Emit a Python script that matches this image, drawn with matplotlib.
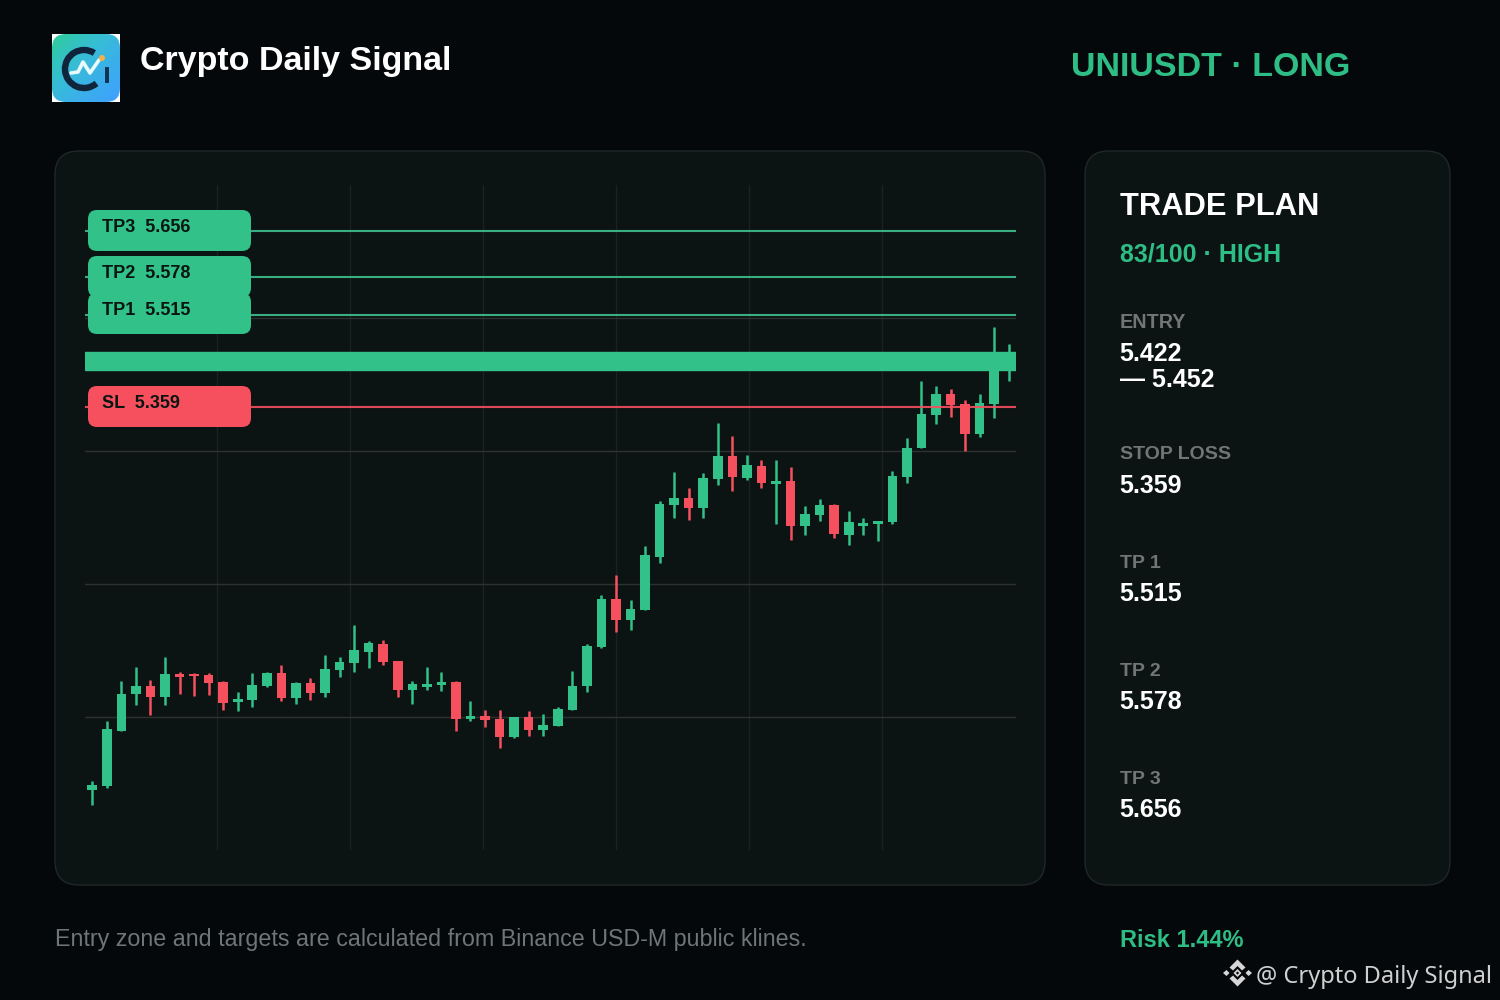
"""UNIUSDT long signal card: candles, entry zone, targets and trade plan panel."""
import numpy as np
import matplotlib
matplotlib.use("Agg")
import matplotlib.pyplot as plt
from matplotlib.patches import FancyBboxPatch, Circle, Polygon, Rectangle, Arc

plt.rcParams["font.family"] = ["Liberation Sans", "DejaVu Sans"]

opens = [4.713, 4.719, 4.812, 4.875, 4.888, 4.870, 4.908, 4.908, 4.907, 4.895,
         4.861, 4.865, 4.888, 4.910, 4.868, 4.893, 4.876, 4.915, 4.927, 4.946,
         4.959, 4.930, 4.881, 4.886, 4.890, 4.895, 4.832, 4.838, 4.832, 4.802,
         4.836, 4.814, 4.821, 4.848, 4.888, 4.954, 5.035, 5.000, 5.016, 5.106,
         5.194, 5.206, 5.189, 5.238, 5.276, 5.239, 5.259, 5.229, 5.234, 5.158,
         5.177, 5.194, 5.143, 5.158, 5.161, 5.165, 5.241, 5.290, 5.345, 5.381,
         5.364, 5.313, 5.364, 5.425]
highs = [4.728, 4.829, 4.897, 4.920, 4.898, 4.937, 4.912, 4.910, 4.910, 4.897,
         4.878, 4.910, 4.912, 4.924, 4.895, 4.902, 4.940, 4.937, 4.991, 4.964,
         4.966, 4.930, 4.897, 4.920, 4.912, 4.897, 4.863, 4.848, 4.848, 4.836,
         4.846, 4.841, 4.853, 4.913, 4.959, 5.042, 5.075, 5.033, 5.124, 5.200,
         5.249, 5.222, 5.248, 5.332, 5.310, 5.278, 5.270, 5.270, 5.258, 5.192,
         5.204, 5.195, 5.183, 5.172, 5.167, 5.251, 5.307, 5.403, 5.394, 5.389,
         5.371, 5.381, 5.494, 5.465]
lows = [4.687, 4.716, 4.812, 4.856, 4.839, 4.856, 4.875, 4.871, 4.873, 4.848,
        4.846, 4.853, 4.886, 4.863, 4.858, 4.865, 4.870, 4.903, 4.912, 4.919,
        4.924, 4.870, 4.858, 4.881, 4.880, 4.812, 4.829, 4.819, 4.783, 4.800,
        4.804, 4.804, 4.821, 4.848, 4.878, 4.952, 4.979, 4.983, 5.016, 5.096,
        5.172, 5.168, 5.172, 5.227, 5.217, 5.236, 5.222, 5.161, 5.134, 5.143,
        5.167, 5.138, 5.126, 5.143, 5.133, 5.161, 5.231, 5.290, 5.330, 5.342,
        5.285, 5.308, 5.340, 5.403]
closes = [4.721, 4.816, 4.875, 4.888, 4.870, 4.908, 4.903, 4.905, 4.893, 4.859,
          4.866, 4.890, 4.910, 4.868, 4.893, 4.876, 4.917, 4.929, 4.949, 4.961,
          4.929, 4.881, 4.891, 4.891, 4.895, 4.832, 4.838, 4.831, 4.802, 4.836,
          4.814, 4.822, 4.849, 4.888, 4.956, 5.035, 5.000, 5.018, 5.110, 5.195,
          5.206, 5.189, 5.239, 5.276, 5.241, 5.261, 5.231, 5.234, 5.158, 5.178,
          5.194, 5.145, 5.165, 5.163, 5.167, 5.243, 5.290, 5.347, 5.381, 5.362,
          5.313, 5.366, 5.438, 5.447]

entry_low, entry_high = 5.422, 5.452
level_names = ["TP3", "TP2", "TP1", "SL"]
level_values = [5.656, 5.578, 5.515, 5.359]
plan_labels = ["STOP LOSS", "TP 1", "TP 2", "TP 3"]
plan_values = [5.359, 5.515, 5.578, 5.656]

BG = "#05080a"
PANEL = "#0c1413"
EDGE = "#1f2826"
GREEN = "#2ebd85"
FILL = "#31c189"
RED = "#f6505f"
GRAY = "#6f7675"

fig = plt.figure(figsize=(15, 10), dpi=100, facecolor=BG)

# background layer and top layer both work in reference pixels
bg = fig.add_axes([0, 0, 1, 1], zorder=0)
top = fig.add_axes([0, 0, 1, 1], zorder=3)
for a in (bg, top):
    a.set_xlim(0, 1500)
    a.set_ylim(1000, 0)
    a.axis("off")


def round_box(a, x0, y0, x1, y1, r, **kw):
    p = FancyBboxPatch((x0 + r, y0 + r), x1 - x0 - 2 * r, y1 - y0 - 2 * r,
                       boxstyle=f"round,pad={r},rounding_size={r}", **kw)
    a.add_patch(p)
    return p


round_box(bg, 55, 151, 1045, 885, 24, fc=PANEL, ec=EDGE, lw=1)
round_box(bg, 1085, 151, 1450, 885, 24, fc=PANEL, ec=EDGE, lw=1)

# chart
ax = fig.add_axes([85 / 1500, 1 - 850 / 1000, 931 / 1500, 665 / 1000], zorder=2)
ax.patch.set_alpha(0)
ax.set_xlim(0, 64)
ax.set_ylim(4.6114, 5.7336)
for s in ax.spines.values():
    s.set_visible(False)
ax.tick_params(left=False, bottom=False, labelleft=False, labelbottom=False)

ax.set_xticks(np.arange(1, 7) * 64 / 7 - 0.04)
ax.set_yticks(np.linspace(4.6114, 5.7336, 6)[1:-1])
ax.grid(axis="x", color="#1b2321", lw=1)
ax.grid(axis="y", color="#2c3230", lw=1)
ax.set_axisbelow(True)

x = np.arange(len(opens)) + 0.5
o, h, l, c = map(np.array, (opens, highs, lows, closes))
colors = [FILL if cc >= oo else RED for oo, cc in zip(o, c)]
ax.vlines(x, l, h, colors=colors, lw=1.8, zorder=2)
ax.bar(x, np.abs(c - o), bottom=np.minimum(o, c), width=0.66, color=colors, zorder=3)

for name, val in zip(level_names, level_values):
    ax.axhline(val, color=RED if name == "SL" else "#3fc08d", lw=1.5,
               alpha=0.9, zorder=4)
ax.axhspan(entry_low, entry_high, fc=FILL, ec=FILL, lw=1, zorder=5)

# level tags
for name, val in zip(level_names, level_values):
    py = int(1000 - ax.transData.transform((0, val))[1] + 0.2)
    col = RED if name == "SL" else FILL
    round_box(top, 88, py - 21, 251, py + 20, 9, fc=col, ec="none")
for name, val in zip(level_names, level_values):
    py = int(1000 - ax.transData.transform((0, val))[1] + 0.2)
    top.text(102, py + 1, f"{name}  {val:.3f}", fontsize=13, fontweight="bold",
             color="#0a1512", ha="left", va="baseline")

# header
logo_bg = Rectangle((52, 34), 68, 68, fc="white", ec="none")
top.add_patch(logo_bg)
clip = round_box(top, 52, 34, 120, 102, 14, fc="none", ec="none")
gx, gy = np.meshgrid(np.linspace(0, 1, 68), np.linspace(0, 1, 68))
t = ((gx + gy) / 2) ** 0.7
grad = np.zeros((68, 68, 3))
for i, (a0, a1, a2) in enumerate(zip((0x2c, 0xd0, 0x8c), (0x37, 0xbc, 0xd8), (0x3f, 0xa0, 0xff))):
    grad[..., i] = np.interp(t, [0, 0.55, 1], [a0, a1, a2]) / 255
im = top.imshow(grad, extent=(52, 120, 102, 34), zorder=2, aspect="auto")
im.set_clip_path(clip)
top.set_xlim(0, 1500)
top.set_ylim(1000, 0)
top.add_patch(Arc((84, 69), 38, 38, angle=0, theta1=49, theta2=303,
                  color="#10243c", lw=4.6, zorder=3))
top.plot([71, 78, 83, 90, 99], [73, 72, 62, 73, 60], color="#e8fbff",
         lw=2.6, zorder=4, solid_capstyle="round", solid_joinstyle="round")
top.add_patch(Circle((102, 58), 3, fc="#f4b04a", ec="none", zorder=5))
top.plot([107, 107], [69, 81], color="#10324f", lw=2.8, zorder=4)

top.text(140, 70, "Crypto Daily Signal", fontsize=24.5, fontweight="bold",
         color="white", va="baseline")
top.text(1071, 76, "UNIUSDT · LONG", fontsize=24.5, fontweight="bold",
         color=GREEN, va="baseline")

# trade plan panel
top.text(1120, 215, "TRADE PLAN", fontsize=22.2, fontweight="bold", color="white",
         va="baseline")
top.text(1120, 261, "83/100 · HIGH", fontsize=18, fontweight="bold", color=GREEN,
         va="baseline")
top.text(1120, 328, "ENTRY", fontsize=14.2, fontweight="bold", color=GRAY,
         va="baseline")
top.text(1119.5, 361, f"{entry_low:.3f}", fontsize=18, fontweight="bold",
         color="white", va="baseline")
top.text(1120, 387, f"— {entry_high:.3f}", fontsize=18, fontweight="bold",
         color="white", va="baseline")
for i, (lab, val) in enumerate(zip(plan_labels, plan_values)):
    y_lab = 459 if i == 0 else 568 + 108 * (i - 1)
    y_val = 493 if i == 0 else 601 + 108 * (i - 1)
    top.text(1120, y_lab, lab, fontsize=14, fontweight="bold", color=GRAY,
             va="baseline")
    top.text(1119.5, y_val, f"{val:.3f}", fontsize=18, fontweight="bold",
             color="white", va="baseline")

# footer
top.text(55, 946, "Entry zone and targets are calculated from Binance USD-M public klines.",
         fontsize=16.73, color=GRAY, va="baseline")
top.text(1120, 947, "Risk 1.44%", fontsize=17, fontweight="bold", color=GREEN,
         va="baseline")

mark = "#d6d6d6"
cx, cy = 1237.5, 973
for pts in (
    [(0, -13.5), (8, -5.5), (4.5, -2.5), (0, -7), (-4.5, -2.5), (-8, -5.5)],
    [(0, 13.5), (8, 5.5), (4.5, 2.5), (0, 7), (-4.5, 2.5), (-8, 5.5)],
    [(0, -4), (4, 0), (0, 4), (-4, 0)],
    [(-11, -3), (-8, 0), (-11, 3), (-14.5, 0)],
    [(11, -3), (14.5, 0), (11, 3), (8, 0)],
):
    top.add_patch(Polygon([(cx + a, cy + b) for a, b in pts], fc=mark, ec="none"))
top.add_patch(Polygon([(cx + a, cy + b) for a, b in [(0, -1.6), (1.6, 0), (0, 1.6), (-1.6, 0)]],
                      fc=BG, ec="none"))
top.text(1256, 983, "@ Crypto Daily Signal", fontsize=17, color="#cfcfcf",
         family="Noto Sans", va="baseline")

fig.savefig("out.png", dpi=100, facecolor=BG)
